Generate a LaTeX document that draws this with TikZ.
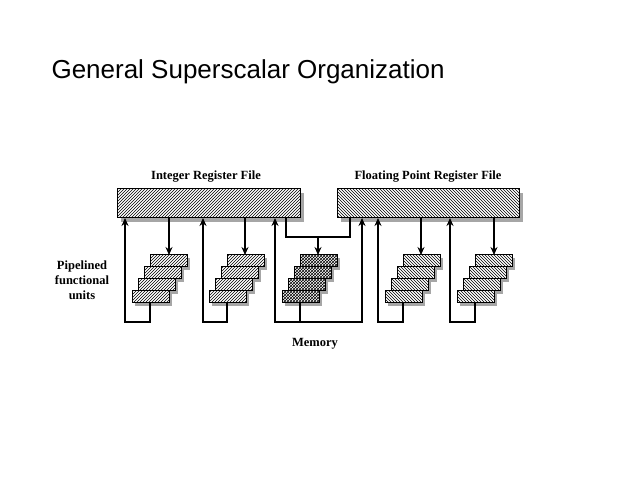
\documentclass[tikz,border=0pt]{standalone}
\usepackage{fontspec}
\setmainfont{Liberation Serif}
\newfontfamily\titlefont{Liberation Sans}
\usetikzlibrary{patterns,arrows.meta}
\begin{document}
\begin{tikzpicture}[x=1pt,y=-1pt,
  lbl/.style={font=\bfseries\fontsize{12.5}{14}\selectfont},
  conn/.style={line width=1.2pt},
  arr/.style={conn,-{Stealth[length=8pt,width=7pt]}},
  shadowbox/.style={fill=gray!70,draw=none},
  rf/.style={draw,line width=1pt}]
\useasboundingbox (0,0) rectangle (638,478);
\node[anchor=west,font=\titlefont\fontsize{26}{30}\selectfont] (title) at (48,72) {General Superscalar Organization};
\node[lbl] (ilab) at (206,177) {Integer Register File};
\node[lbl] (flab) at (428,177) {Floating Point Register File};
\node[lbl,align=center,font=\bfseries\fontsize{12.5}{15}\selectfont] (pfu) at (82,280) {Pipelined\\functional\\units};
\node[lbl] (mem) at (315,344) {Memory};
% register files
\fill[gray!70] (121,193) rectangle (304,222);
\fill[gray!70] (341,193) rectangle (523,222);
\draw[rf,fill=white] (117,189) rectangle (300,218);
\draw[rf,pattern=north east lines] (117,189) rectangle (300,218);
\draw[rf,fill=white] (337,189) rectangle (519,218);
\draw[rf,pattern=north west lines] (337,189) rectangle (519,218);
\coordinate (irf) at (117,218);
\coordinate (frf) at (337,218);
% unit stacks
\newcommand\unitstack[2]{%
  \foreach \k in {0,1,2,3}{
    \fill[gray!70] ({#1-6*\k+3},{255+12*\k+3}) rectangle ({#1-6*\k+40},{255+12*\k+15});
    \draw[line width=1pt,fill=white] ({#1-6*\k},{255+12*\k}) rectangle ({#1-6*\k+37},{255+12*\k+12});
    \draw[line width=1pt,pattern=#2] ({#1-6*\k},{255+12*\k}) rectangle ({#1-6*\k+37},{255+12*\k+12});
  }}
\unitstack{150}{north east lines}
\unitstack{227}{north east lines}
\unitstack{300}{crosshatch}
\unitstack{403}{north west lines}
\unitstack{475}{north west lines}
% arrows into units
\coordinate (u1) at (169,255); \coordinate (u2) at (245,255); \coordinate (u3) at (318,255);
\coordinate (u4) at (421,255); \coordinate (u5) at (494,255);
\draw[arr] (169,218) -- (u1);
\draw[arr] (245,218) -- (u2);
\draw[arr] (421,218) -- (u4);
\draw[arr] (494,218) -- (u5);
\draw[conn] (286,218) -- (286,237) -- (350,237) -- (350,218);
\draw[arr] (318,237) -- (u3);
% feedback loops
\draw[arr] (150,303) -- (150,322) -- (125,322) -- (125,218);
\draw[arr] (227,303) -- (227,322) -- (203,322) -- (203,218);
\draw[arr] (300,303) -- (300,322) -- (275,322) -- (275,218);
\draw[arr] (300,322) -- (362,322) -- (362,218);
\draw[arr] (403,303) -- (403,322) -- (378,322) -- (378,218);
\draw[arr] (475,303) -- (475,322) -- (450,322) -- (450,218);
\end{tikzpicture}
\end{document}
